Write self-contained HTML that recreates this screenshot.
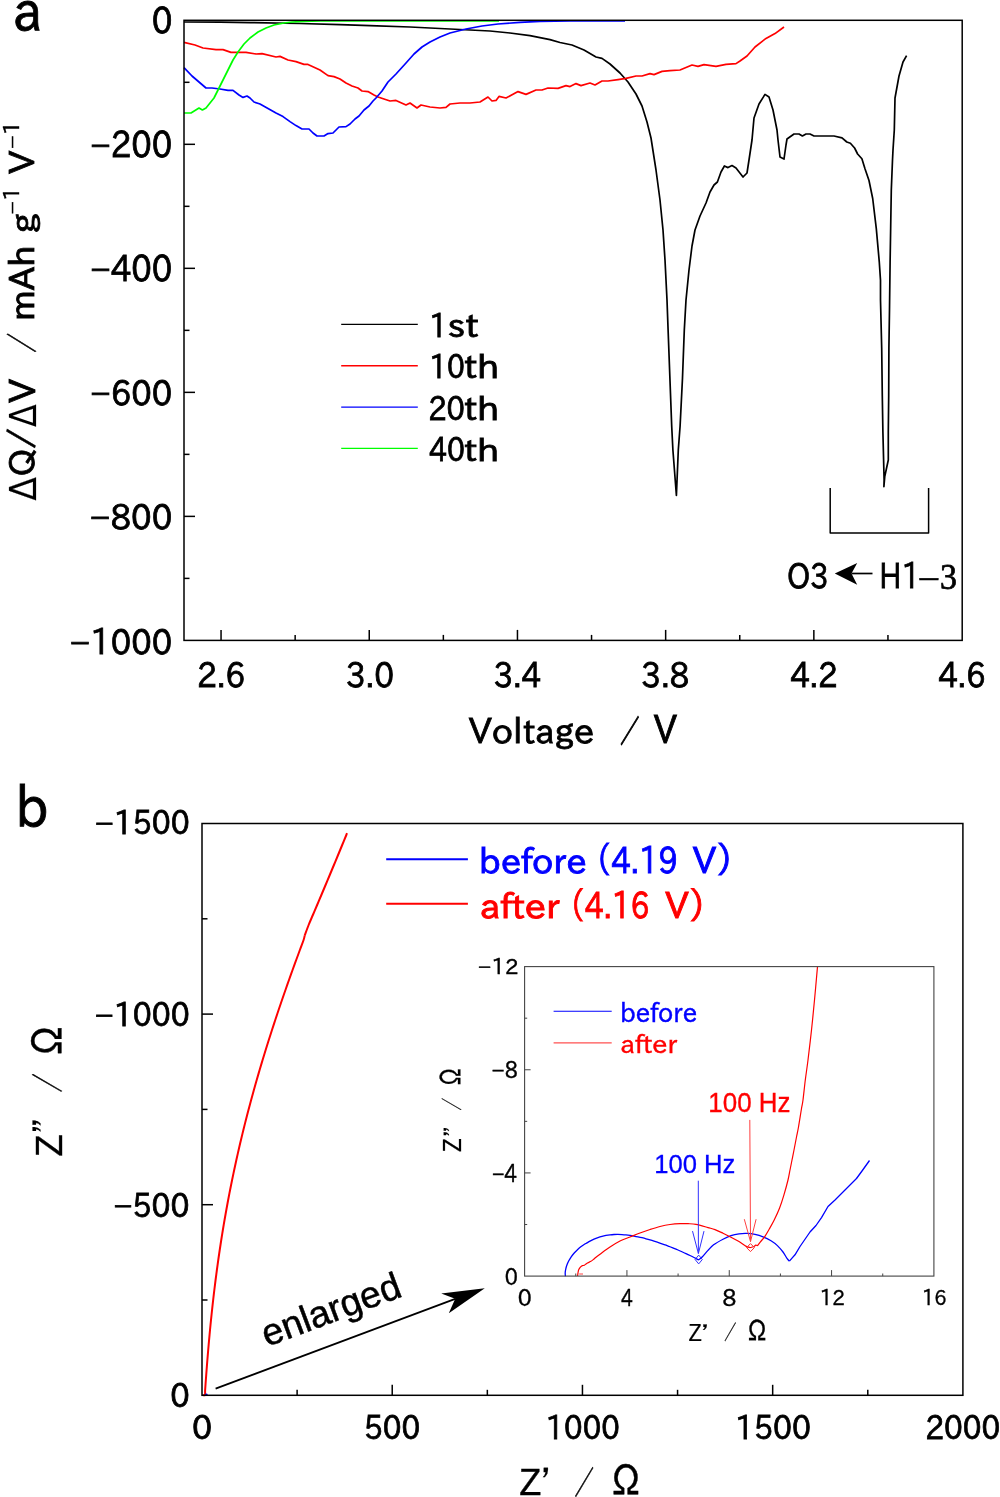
<!DOCTYPE html>
<html><head><meta charset="utf-8"><title>figure</title>
<style>html,body{margin:0;padding:0;background:#fff;}svg{display:block;}</style></head>
<body><svg width="1000" height="1497" viewBox="0 0 1000 1497">
<rect width="1000" height="1497" fill="#fff"/>
<polyline points="184.0,22.0 220.0,22.2 250.0,22.6 300.0,23.5 340.0,24.6 370.0,25.6 410.0,27.0 450.0,29.0 490.0,31.0 510.0,33.0 530.0,35.6 550.0,39.6 560.0,42.5 572.0,45.0 584.0,50.0 596.0,57.0 602.0,58.4 610.0,64.0 620.0,73.0 628.0,82.0 636.0,94.0 642.0,106.0 647.0,122.0 651.0,138.0 656.0,170.0 660.0,200.0 663.0,230.0 665.0,260.0 667.0,300.0 668.1,330.0 669.9,378.0 671.7,426.0 672.9,450.0 676.4,495.5 678.3,450.0 680.1,426.0 682.5,378.0 684.3,330.0 686.0,300.0 689.0,270.0 692.0,246.0 695.0,230.0 700.0,216.0 706.0,203.0 710.0,192.0 714.0,185.0 717.4,182.0 721.0,172.0 724.4,166.0 728.0,167.6 732.0,165.6 736.0,168.0 743.0,177.0 747.0,173.0 749.0,160.0 752.0,140.0 754.0,118.0 759.0,104.0 765.0,94.4 769.0,97.0 773.0,110.0 777.0,130.0 778.0,140.0 780.0,157.0 784.0,159.0 786.0,145.0 787.0,139.0 794.0,134.0 799.0,134.0 802.4,136.0 806.0,134.0 810.0,134.0 814.0,136.0 834.0,136.0 842.0,137.8 846.8,142.0 850.4,143.2 854.6,148.0 857.6,154.0 861.9,158.8 864.9,168.5 869.0,180.5 872.7,198.5 876.3,228.6 879.3,262.2 880.5,280.2 880.5,300.0 881.7,348.0 882.3,396.0 882.9,432.0 884.1,480.0 883.9,486.7 884.8,476.3 888.3,460.0 888.3,432.0 888.7,396.0 888.9,348.0 889.5,310.0 890.1,262.0 890.7,226.0 891.3,190.0 892.5,160.0 893.0,150.0 894.3,130.0 895.0,98.0 899.0,76.0 903.0,62.0 906.6,55.6" fill="none" stroke="#000" stroke-width="1.7" stroke-linejoin="round" stroke-linecap="butt" />
<polyline points="184.0,42.4 195.0,45.0 203.0,48.0 216.0,49.6 223.0,49.6 231.0,52.4 240.0,52.4 246.0,52.4 256.0,54.0 262.0,53.6 276.0,57.0 280.0,56.4 288.0,60.0 296.0,61.6 304.0,64.4 308.0,64.4 320.0,70.0 328.0,75.6 334.0,76.6 340.0,79.0 346.0,83.0 352.0,86.0 358.0,88.0 362.0,91.0 368.0,91.6 374.0,95.0 378.0,97.0 390.0,101.0 396.0,100.4 406.0,105.0 410.0,103.0 417.0,108.0 421.0,105.0 430.0,107.0 440.0,108.0 446.0,107.4 450.0,104.0 460.0,103.0 470.0,103.0 480.0,102.0 488.0,97.0 492.0,101.0 496.0,100.4 499.0,96.4 506.0,98.0 518.0,91.6 526.0,94.4 536.0,90.0 542.0,90.0 548.0,88.0 558.0,88.4 566.0,85.6 570.0,86.6 576.0,83.6 581.0,85.6 590.0,83.0 595.0,85.0 602.0,81.0 608.0,81.0 618.0,79.6 626.0,78.4 636.0,76.0 642.0,76.0 650.0,73.6 654.0,74.6 662.0,71.4 670.0,70.6 680.0,70.0 692.0,65.0 698.0,66.4 704.0,64.6 716.0,66.4 726.0,64.4 736.0,63.6 740.0,61.0 747.0,56.0 755.0,47.0 766.0,38.4 775.0,33.6 784.0,27.0" fill="none" stroke="#ff0000" stroke-width="1.7" stroke-linejoin="round" stroke-linecap="butt" />
<polyline points="184.0,67.6 192.0,76.0 199.0,82.0 206.0,88.0 212.0,88.0 220.0,89.0 228.0,90.4 233.0,90.4 239.0,95.0 243.0,97.4 247.0,96.0 250.0,98.0 254.0,102.0 260.0,104.0 268.0,108.4 276.0,113.0 283.0,116.6 290.0,121.6 296.0,125.6 302.0,129.0 309.0,129.0 313.0,133.0 317.0,136.0 324.0,136.0 328.0,133.6 333.0,133.0 339.0,127.0 346.0,126.6 350.0,124.0 355.0,119.0 359.0,116.0 364.0,110.0 369.0,106.0 373.0,101.0 376.0,98.0 382.0,91.0 388.0,82.0 396.0,74.0 406.0,63.0 414.0,54.0 422.0,47.0 430.0,42.0 440.0,37.0 450.0,33.0 466.0,29.0 482.0,26.0 498.0,24.0 520.0,22.4 540.0,21.4 570.0,20.8 625.0,20.8" fill="none" stroke="#0000ff" stroke-width="1.7" stroke-linejoin="round" stroke-linecap="butt" />
<polyline points="184.0,113.0 191.0,113.0 199.0,108.0 202.4,110.0 206.0,108.0 210.0,103.0 214.0,98.0 218.0,90.0 223.0,80.0 228.0,70.0 233.0,60.0 238.0,52.0 244.0,44.0 250.0,38.0 258.0,32.0 266.0,28.0 274.0,25.0 284.0,23.0 292.0,22.0 304.0,21.4 320.0,21.0 340.0,20.8 380.0,20.8 499.0,20.8" fill="none" stroke="#00ff00" stroke-width="1.7" stroke-linejoin="round" stroke-linecap="butt" />
<rect x="184" y="20.3" width="778.2" height="620.1" fill="none" stroke="#000" stroke-width="1.5"/>
<line x1="184" y1="82.31" x2="189.5" y2="82.31" stroke="#000" stroke-width="1.5"/>
<line x1="184" y1="144.32000000000002" x2="195" y2="144.32000000000002" stroke="#000" stroke-width="1.5"/>
<line x1="184" y1="206.33000000000004" x2="189.5" y2="206.33000000000004" stroke="#000" stroke-width="1.5"/>
<line x1="184" y1="268.34000000000003" x2="195" y2="268.34000000000003" stroke="#000" stroke-width="1.5"/>
<line x1="184" y1="330.35" x2="189.5" y2="330.35" stroke="#000" stroke-width="1.5"/>
<line x1="184" y1="392.36000000000007" x2="195" y2="392.36000000000007" stroke="#000" stroke-width="1.5"/>
<line x1="184" y1="454.37" x2="189.5" y2="454.37" stroke="#000" stroke-width="1.5"/>
<line x1="184" y1="516.38" x2="195" y2="516.38" stroke="#000" stroke-width="1.5"/>
<line x1="184" y1="578.39" x2="189.5" y2="578.39" stroke="#000" stroke-width="1.5"/>
<line x1="221.05000000000004" y1="640.4" x2="221.05000000000004" y2="629.9" stroke="#000" stroke-width="1.5"/>
<line x1="295.1499999999999" y1="640.4" x2="295.1499999999999" y2="634.9" stroke="#000" stroke-width="1.5"/>
<line x1="369.25" y1="640.4" x2="369.25" y2="629.9" stroke="#000" stroke-width="1.5"/>
<line x1="443.3500000000001" y1="640.4" x2="443.3500000000001" y2="634.9" stroke="#000" stroke-width="1.5"/>
<line x1="517.45" y1="640.4" x2="517.45" y2="629.9" stroke="#000" stroke-width="1.5"/>
<line x1="591.55" y1="640.4" x2="591.55" y2="634.9" stroke="#000" stroke-width="1.5"/>
<line x1="665.6499999999999" y1="640.4" x2="665.6499999999999" y2="629.9" stroke="#000" stroke-width="1.5"/>
<line x1="739.75" y1="640.4" x2="739.75" y2="634.9" stroke="#000" stroke-width="1.5"/>
<line x1="813.85" y1="640.4" x2="813.85" y2="629.9" stroke="#000" stroke-width="1.5"/>
<line x1="887.9500000000002" y1="640.4" x2="887.9500000000002" y2="634.9" stroke="#000" stroke-width="1.5"/>
<polyline points="830.2,488.0 830.2,533.0 928.6,533.0 928.6,488.0" fill="none" stroke="#000" stroke-width="1.5" stroke-linejoin="round" stroke-linecap="butt" />
<polyline points="851.5,573.5 872.5,573.5" fill="none" stroke="#000" stroke-width="1.7" stroke-linejoin="round" stroke-linecap="butt" />
<polygon points="834.8,573.5 857.2,563 851.5,573.5 857.2,584.8" fill="#000"/>
<line x1="341.2" y1="324.4" x2="417.8" y2="324.4" stroke="#000" stroke-width="1.4"/>
<line x1="341.2" y1="365.8" x2="417.8" y2="365.8" stroke="#ff0000" stroke-width="1.4"/>
<line x1="341.2" y1="407.1" x2="417.8" y2="407.1" stroke="#0000ff" stroke-width="1.4"/>
<line x1="341.2" y1="448.4" x2="417.8" y2="448.4" stroke="#00ff00" stroke-width="1.4"/>
<path d="M202.50,1395.00 C202.90,1395.00 204.46,1395.83 204.90,1395.00 C205.34,1394.17 204.98,1392.50 205.14,1390.00 C205.30,1387.50 205.60,1383.33 205.84,1380.00 C206.08,1376.67 206.34,1373.33 206.59,1370.00 C206.84,1366.67 207.10,1363.33 207.37,1360.00 C207.64,1356.67 207.91,1353.33 208.20,1350.00 C208.48,1346.67 208.78,1343.33 209.08,1340.00 C209.38,1336.67 209.69,1333.33 210.01,1330.00 C210.33,1326.67 210.66,1323.33 211.00,1320.00 C211.34,1316.67 211.69,1313.33 212.05,1310.00 C212.41,1306.67 212.78,1303.33 213.16,1300.00 C213.54,1296.67 213.93,1293.33 214.33,1290.00 C214.73,1286.67 215.14,1283.33 215.57,1280.00 C216.00,1276.67 216.43,1273.33 216.88,1270.00 C217.33,1266.67 217.79,1263.33 218.26,1260.00 C218.73,1256.67 219.22,1253.33 219.72,1250.00 C220.22,1246.67 220.73,1243.33 221.25,1240.00 C221.77,1236.67 222.31,1233.33 222.86,1230.00 C223.41,1226.67 223.97,1223.33 224.54,1220.00 C225.11,1216.67 225.71,1213.33 226.31,1210.00 C226.91,1206.67 227.52,1203.33 228.15,1200.00 C228.78,1196.67 229.42,1193.33 230.08,1190.00 C230.74,1186.67 231.41,1183.33 232.09,1180.00 C232.77,1176.67 233.47,1173.33 234.18,1170.00 C234.89,1166.67 235.61,1163.33 236.35,1160.00 C237.09,1156.67 237.84,1153.33 238.61,1150.00 C239.38,1146.67 240.16,1143.33 240.95,1140.00 C241.74,1136.67 242.55,1133.33 243.37,1130.00 C244.19,1126.67 245.02,1123.33 245.87,1120.00 C246.72,1116.67 247.58,1113.33 248.46,1110.00 C249.34,1106.67 250.23,1103.33 251.13,1100.00 C252.03,1096.67 252.95,1093.33 253.88,1090.00 C254.81,1086.67 255.75,1083.33 256.71,1080.00 C257.66,1076.67 258.63,1073.33 259.61,1070.00 C260.59,1066.67 261.58,1063.33 262.59,1060.00 C263.60,1056.67 264.62,1053.33 265.65,1050.00 C266.68,1046.67 267.72,1043.33 268.78,1040.00 C269.83,1036.67 270.90,1033.33 271.98,1030.00 C273.06,1026.67 274.15,1023.33 275.25,1020.00 C276.35,1016.67 277.47,1013.33 278.59,1010.00 C279.71,1006.67 280.85,1003.33 281.99,1000.00 C283.13,996.67 284.29,993.33 285.46,990.00 C286.62,986.67 287.80,983.33 288.98,980.00 C290.16,976.67 291.36,973.33 292.56,970.00 C293.76,966.67 294.97,963.33 296.19,960.00 C297.41,956.67 298.64,953.33 299.87,950.00 C301.10,946.67 302.78,942.43 303.59,940.00 C304.40,937.57 304.55,936.17 304.74,935.40 M304.74,935.40 C305.39,933.67 307.26,928.40 308.62,925.00 C309.98,921.60 311.46,918.33 312.88,915.00 C314.30,911.67 315.72,908.33 317.13,905.00 C318.54,901.67 319.96,898.33 321.36,895.00 C322.76,891.67 324.16,888.33 325.56,885.00 C326.96,881.67 328.36,878.33 329.75,875.00 C331.14,871.67 332.53,868.33 333.92,865.00 C335.31,861.67 336.69,858.33 338.07,855.00 C339.45,851.67 340.82,848.33 342.20,845.00 C343.57,841.67 345.52,836.97 346.32,835.00 C347.12,833.03 346.89,833.50 347.00,833.20" fill="none" stroke="#ff0000" stroke-width="2.0" stroke-linejoin="round"/>
<circle cx="206.4" cy="1394.6" r="1.2" fill="#0000ff"/>
<rect x="202" y="823.5" width="760.9" height="571.8" fill="none" stroke="#000" stroke-width="1.5"/>
<line x1="202" y1="1300.0" x2="207.5" y2="1300.0" stroke="#000" stroke-width="1.5"/>
<line x1="202" y1="1204.7" x2="213" y2="1204.7" stroke="#000" stroke-width="1.5"/>
<line x1="202" y1="1109.4" x2="207.5" y2="1109.4" stroke="#000" stroke-width="1.5"/>
<line x1="202" y1="1014.0999999999999" x2="213" y2="1014.0999999999999" stroke="#000" stroke-width="1.5"/>
<line x1="202" y1="918.8" x2="207.5" y2="918.8" stroke="#000" stroke-width="1.5"/>
<line x1="297.1125" y1="1395.3" x2="297.1125" y2="1389.8" stroke="#000" stroke-width="1.5"/>
<line x1="392.225" y1="1395.3" x2="392.225" y2="1384.8" stroke="#000" stroke-width="1.5"/>
<line x1="487.3375" y1="1395.3" x2="487.3375" y2="1389.8" stroke="#000" stroke-width="1.5"/>
<line x1="582.45" y1="1395.3" x2="582.45" y2="1384.8" stroke="#000" stroke-width="1.5"/>
<line x1="677.5625" y1="1395.3" x2="677.5625" y2="1389.8" stroke="#000" stroke-width="1.5"/>
<line x1="772.675" y1="1395.3" x2="772.675" y2="1384.8" stroke="#000" stroke-width="1.5"/>
<line x1="867.7875" y1="1395.3" x2="867.7875" y2="1389.8" stroke="#000" stroke-width="1.5"/>
<line x1="386.2" y1="859.3" x2="467.9" y2="859.3" stroke="#0000ff" stroke-width="1.9"/>
<line x1="386.2" y1="903.8" x2="467.9" y2="903.8" stroke="#ff0000" stroke-width="1.9"/>
<polyline points="215.6,1388.6 455.2,1298.8" fill="none" stroke="#000" stroke-width="1.8" stroke-linejoin="round" stroke-linecap="butt" />
<polygon points="484.8,1288.2 441.2,1293.4 455.2,1298.8 448.8,1313.2" fill="#000"/>
<rect x="524.6" y="966.6" width="409.29999999999995" height="309.4999999999999" fill="#fff" stroke="none"/>
<path d="M565.40,1276.20 C565.37,1275.63 565.13,1274.03 565.20,1272.80 C565.27,1271.57 565.50,1270.13 565.80,1268.80 C566.10,1267.47 566.50,1266.13 567.00,1264.80 C567.50,1263.47 568.10,1262.13 568.80,1260.80 C569.50,1259.47 570.33,1258.07 571.20,1256.80 C572.07,1255.53 573.00,1254.33 574.00,1253.20 C575.00,1252.07 576.07,1251.07 577.20,1250.00 C578.33,1248.93 579.53,1247.80 580.80,1246.80 C582.07,1245.80 583.93,1244.55 584.80,1244.00 C585.67,1243.45 585.13,1243.99 586.00,1243.50 C586.87,1243.01 588.67,1241.81 590.00,1241.08 C591.33,1240.35 592.67,1239.69 594.00,1239.10 C595.33,1238.51 596.67,1237.99 598.00,1237.52 C599.33,1237.05 600.67,1236.65 602.00,1236.30 C603.33,1235.95 604.67,1235.66 606.00,1235.41 C607.33,1235.16 608.67,1234.96 610.00,1234.81 C611.33,1234.66 612.67,1234.56 614.00,1234.49 C615.33,1234.42 616.67,1234.40 618.00,1234.41 C619.33,1234.42 620.67,1234.46 622.00,1234.54 C623.33,1234.62 624.67,1234.73 626.00,1234.87 C627.33,1235.01 628.67,1235.18 630.00,1235.37 C631.33,1235.56 632.67,1235.79 634.00,1236.03 C635.33,1236.27 636.67,1236.53 638.00,1236.82 C639.33,1237.11 640.67,1237.41 642.00,1237.74 C643.33,1238.07 644.67,1238.41 646.00,1238.77 C647.33,1239.13 648.67,1239.50 650.00,1239.89 C651.33,1240.28 652.67,1240.69 654.00,1241.11 C655.33,1241.53 656.67,1241.97 658.00,1242.41 C659.33,1242.86 660.67,1243.31 662.00,1243.78 C663.33,1244.25 664.67,1244.73 666.00,1245.23 C667.33,1245.73 668.67,1246.24 670.00,1246.76 C671.33,1247.28 672.67,1247.81 674.00,1248.35 C675.33,1248.89 676.67,1249.45 678.00,1250.02 C679.33,1250.59 680.67,1251.17 682.00,1251.77 C683.33,1252.37 684.67,1252.97 686.00,1253.60 C687.33,1254.22 688.67,1254.86 690.00,1255.52 C691.33,1256.18 692.67,1256.85 694.00,1257.54 C695.33,1258.23 697.13,1259.36 698.00,1259.67 C698.87,1259.98 699.00,1259.45 699.20,1259.40 M699.20,1259.40 C699.73,1258.97 700.93,1258.30 702.40,1256.80 C703.87,1255.30 706.13,1252.40 708.00,1250.40 C709.87,1248.40 711.10,1246.67 713.60,1244.80 C716.10,1242.93 720.10,1240.73 723.00,1239.20 C725.90,1237.67 728.33,1236.50 731.00,1235.60 C733.67,1234.70 736.33,1234.17 739.00,1233.80 C741.67,1233.43 744.33,1233.30 747.00,1233.40 C749.67,1233.50 752.33,1233.83 755.00,1234.40 C757.67,1234.97 760.33,1235.73 763.00,1236.80 C765.67,1237.87 768.60,1239.33 771.00,1240.80 C773.40,1242.27 775.40,1243.73 777.40,1245.60 C779.40,1247.47 781.40,1249.87 783.00,1252.00 C784.60,1254.13 785.93,1256.87 787.00,1258.40 C788.07,1259.93 789.00,1260.73 789.40,1261.20" fill="none" stroke="#0000ff" stroke-width="1.3" stroke-linejoin="round"/><polyline points="789.4,1261.2 791.8,1258.4 795.0,1254.8 800.0,1246.5 810.0,1232.0 816.0,1225.5 821.5,1217.6 828.0,1206.5 835.0,1200.0 845.0,1190.0 856.5,1178.5 862.0,1171.0 869.5,1160.5" fill="none" stroke="#0000ff" stroke-width="1.3" stroke-linejoin="round" stroke-linecap="butt" />
<path d="M577.60,1276.00 C577.67,1275.47 577.80,1273.87 578.00,1272.80 C578.20,1271.73 578.40,1270.53 578.80,1269.60 C579.20,1268.67 579.80,1267.87 580.40,1267.20 C581.00,1266.53 581.80,1265.90 582.40,1265.60 C583.00,1265.30 583.40,1265.67 584.00,1265.40 C584.60,1265.13 585.33,1264.43 586.00,1264.00 C586.67,1263.57 587.27,1263.20 588.00,1262.80 C588.73,1262.40 589.53,1262.13 590.40,1261.60 C591.27,1261.07 592.27,1260.33 593.20,1259.60 C594.13,1258.87 594.87,1258.10 596.00,1257.20 C597.13,1256.30 597.67,1255.90 600.00,1254.20 C602.33,1252.50 606.67,1249.20 610.00,1247.00 C613.33,1244.80 616.67,1242.67 620.00,1241.00 C623.33,1239.33 626.67,1238.33 630.00,1237.00 C633.33,1235.67 636.67,1234.25 640.00,1233.00 C643.33,1231.75 646.67,1230.58 650.00,1229.50 C653.33,1228.42 656.67,1227.33 660.00,1226.50 C663.33,1225.67 666.67,1224.98 670.00,1224.50 C673.33,1224.02 677.00,1223.73 680.00,1223.60 C683.00,1223.47 685.33,1223.57 688.00,1223.70 C690.67,1223.83 692.67,1223.75 696.00,1224.40 C699.33,1225.05 704.83,1226.73 708.00,1227.60 C711.17,1228.47 712.50,1228.67 715.00,1229.60 C717.50,1230.53 720.33,1231.93 723.00,1233.20 C725.67,1234.47 728.33,1235.80 731.00,1237.20 C733.67,1238.60 736.47,1240.07 739.00,1241.60 C741.53,1243.13 744.33,1245.40 746.20,1246.40 C748.07,1247.40 749.53,1247.40 750.20,1247.60 M750.20,1247.60 C750.73,1247.47 752.47,1247.20 753.40,1246.80 C754.33,1246.40 755.13,1245.37 755.80,1245.20 C756.47,1245.03 757.13,1245.70 757.40,1245.80 M757.40,1245.80 C757.93,1245.10 759.40,1243.10 760.60,1241.60 C761.80,1240.10 763.13,1238.93 764.60,1236.80 C766.07,1234.67 767.80,1231.60 769.40,1228.80 C771.00,1226.00 772.50,1223.47 774.20,1220.00 C775.90,1216.53 778.00,1212.10 779.60,1208.00 C781.20,1203.90 782.40,1200.07 783.80,1195.40 C785.20,1190.73 786.97,1184.23 788.00,1180.00 C789.03,1175.77 789.33,1173.33 790.00,1170.00 C790.67,1166.67 791.33,1163.33 792.00,1160.00 C792.67,1156.67 793.25,1153.83 794.00,1150.00 C794.75,1146.17 795.75,1140.83 796.50,1137.00 C797.25,1133.17 797.67,1131.75 798.50,1127.00 C799.33,1122.25 800.75,1113.00 801.50,1108.50 C802.25,1104.00 802.37,1104.75 803.00,1100.00 C803.63,1095.25 804.47,1086.67 805.30,1080.00 C806.13,1073.33 806.97,1068.33 808.00,1060.00 C809.03,1051.67 810.42,1040.00 811.50,1030.00 C812.58,1020.00 813.50,1010.57 814.50,1000.00 C815.50,989.43 817.00,972.17 817.50,966.60" fill="none" stroke="#ff0000" stroke-width="1.2" stroke-linejoin="round"/>
<polyline points="698.3,1180.7 698.4,1253.5" fill="none" stroke="#3030ff" stroke-width="1.0" stroke-linejoin="round" stroke-linecap="butt" />
<polyline points="692.5,1231.1 698.4,1253.5 704.0,1231.1" fill="none" stroke="#3030ff" stroke-width="1.0" stroke-linejoin="round" stroke-linecap="butt" />
<polyline points="749.8,1119.9 750.5,1241.6" fill="none" stroke="#ff4040" stroke-width="1.0" stroke-linejoin="round" stroke-linecap="butt" />
<polyline points="744.3,1219.2 750.5,1241.6 756.1,1219.2" fill="none" stroke="#ff4040" stroke-width="1.0" stroke-linejoin="round" stroke-linecap="butt" />
<polygon points="698.7,1255.1 702.3,1259.5 698.7,1263.9 695.1,1259.5" fill="none" stroke="#3030ff" stroke-width="1"/>
<polygon points="750.5,1243.6 754.4,1247.6 750.5,1251.6 746.6,1247.6" fill="none" stroke="#ff3030" stroke-width="1"/>
<polyline points="579.2,1274.0 583.0,1274.0" fill="none" stroke="#ff6060" stroke-width="1.2" stroke-linejoin="round" stroke-linecap="butt" />
<rect x="524.6" y="966.6" width="409.29999999999995" height="309.4999999999999" fill="none" stroke="#444" stroke-width="1.1"/>
<line x1="524.6" y1="1224.5166666666667" x2="527.2" y2="1224.5166666666667" stroke="#444" stroke-width="1.0"/>
<line x1="524.6" y1="1172.9333333333334" x2="530.6" y2="1172.9333333333334" stroke="#444" stroke-width="1.0"/>
<line x1="524.6" y1="1121.35" x2="527.2" y2="1121.35" stroke="#444" stroke-width="1.0"/>
<line x1="524.6" y1="1069.7666666666667" x2="530.6" y2="1069.7666666666667" stroke="#444" stroke-width="1.0"/>
<line x1="524.6" y1="1018.1833333333334" x2="527.2" y2="1018.1833333333334" stroke="#444" stroke-width="1.0"/>
<line x1="575.7625" y1="1276.1" x2="575.7625" y2="1273.5" stroke="#444" stroke-width="1.0"/>
<line x1="626.925" y1="1276.1" x2="626.925" y2="1270.1" stroke="#444" stroke-width="1.0"/>
<line x1="678.0875" y1="1276.1" x2="678.0875" y2="1273.5" stroke="#444" stroke-width="1.0"/>
<line x1="729.25" y1="1276.1" x2="729.25" y2="1270.1" stroke="#444" stroke-width="1.0"/>
<line x1="780.4125" y1="1276.1" x2="780.4125" y2="1273.5" stroke="#444" stroke-width="1.0"/>
<line x1="831.575" y1="1276.1" x2="831.575" y2="1270.1" stroke="#444" stroke-width="1.0"/>
<line x1="882.7375" y1="1276.1" x2="882.7375" y2="1273.5" stroke="#444" stroke-width="1.0"/>
<line x1="553.6" y1="1011.3" x2="611.7" y2="1011.3" stroke="#0000ff" stroke-width="1.1"/>
<line x1="553.6" y1="1042.9" x2="611.7" y2="1042.9" stroke="#ff5050" stroke-width="1.3"/>
<text transform="translate(151.73,32.87) scale(0.8667,0.9300) rotate(0)" style="font-family:'IPAPGothic','IPAGothic',sans-serif;font-size:38px" fill="#000" stroke="#000" stroke-width="0.9">0</text>
<text transform="translate(90.18,157.07) scale(0.8576,0.9333) rotate(0)" style="font-family:'IPAPGothic','IPAGothic',sans-serif;font-size:38px" fill="#000" stroke="#000" stroke-width="0.9">−200</text>
<text transform="translate(90.18,280.97) scale(0.8576,0.9300) rotate(0)" style="font-family:'IPAPGothic','IPAGothic',sans-serif;font-size:38px" fill="#000" stroke="#000" stroke-width="0.9">−400</text>
<text transform="translate(90.18,404.89) scale(0.8576,0.9100) rotate(0)" style="font-family:'IPAPGothic','IPAGothic',sans-serif;font-size:38px" fill="#000" stroke="#000" stroke-width="0.9">−600</text>
<text transform="translate(89.78,529.08) scale(0.8620,0.9167) rotate(0)" style="font-family:'IPAPGothic','IPAGothic',sans-serif;font-size:38px" fill="#000" stroke="#000" stroke-width="0.9">−800</text>
<text transform="translate(69.79,654.11) scale(0.8560,0.8871) rotate(0)" style="font-family:'IPAPGothic','IPAGothic',sans-serif;font-size:38px" fill="#000" stroke="#000" stroke-width="0.9">−1000</text>
<text transform="translate(197.04,686.68) scale(0.8315,0.9200) rotate(0)" style="font-family:'IPAPGothic','IPAGothic',sans-serif;font-size:38px" fill="#000" stroke="#000" stroke-width="0.9">2.6</text>
<text transform="translate(345.97,686.68) scale(0.8291,0.9200) rotate(0)" style="font-family:'IPAPGothic','IPAGothic',sans-serif;font-size:38px" fill="#000" stroke="#000" stroke-width="0.9">3.0</text>
<text transform="translate(493.78,686.68) scale(0.8161,0.9200) rotate(0)" style="font-family:'IPAPGothic','IPAGothic',sans-serif;font-size:38px" fill="#000" stroke="#000" stroke-width="0.9">3.4</text>
<text transform="translate(641.37,686.68) scale(0.8291,0.9200) rotate(0)" style="font-family:'IPAPGothic','IPAGothic',sans-serif;font-size:38px" fill="#000" stroke="#000" stroke-width="0.9">3.8</text>
<text transform="translate(790.18,686.68) scale(0.8182,0.9200) rotate(0)" style="font-family:'IPAPGothic','IPAGothic',sans-serif;font-size:38px" fill="#000" stroke="#000" stroke-width="0.9">4.2</text>
<text transform="translate(938.18,686.68) scale(0.8182,0.9200) rotate(0)" style="font-family:'IPAPGothic','IPAGothic',sans-serif;font-size:38px" fill="#000" stroke="#000" stroke-width="0.9">4.6</text>
<text transform="translate(469.10,742.57) scale(0.8864,0.8700) rotate(0)" style="font-family:'IPAPGothic','IPAGothic',sans-serif;font-size:40px" fill="#000" stroke="#000" stroke-width="0.9">Voltage</text>
<text transform="translate(619.80,742.56) scale(0.5000,0.8135) rotate(0)" style="font-family:'IPAPGothic','IPAGothic',sans-serif;font-size:40px" fill="#000" stroke="#000" stroke-width="1.3">／</text>
<text transform="translate(654.00,743.47) scale(0.8923,0.9290) rotate(0)" style="font-family:'IPAPGothic','IPAGothic',sans-serif;font-size:40px" fill="#000" stroke="#000" stroke-width="0.9">V</text>
<text transform="translate(37.64,505.03) scale(1.0222,0.8464) rotate(-90)" style="font-family:'IPAPGothic','IPAGothic',sans-serif;font-size:38px" fill="#000" stroke="#000" stroke-width="0.2">Δ</text>
<text transform="translate(34.16,476.54) scale(0.9125,0.9185) rotate(-90)" style="font-family:'IPAPGothic','IPAGothic',sans-serif;font-size:38px" fill="#000" stroke="#000" stroke-width="0.9">Q</text>
<text transform="translate(31.34,450.14) scale(0.8600,1.3214) rotate(-90)" style="font-family:'IPAPGothic','IPAGothic',sans-serif;font-size:38px" fill="#000" stroke="#000" stroke-width="0.4">/</text>
<text transform="translate(37.64,431.19) scale(1.0222,0.8179) rotate(-90)" style="font-family:'IPAPGothic','IPAGothic',sans-serif;font-size:38px" fill="#000" stroke="#000" stroke-width="0.2">Δ</text>
<text transform="translate(34.67,402.60) scale(0.9300,0.9600) rotate(-90)" style="font-family:'IPAPGothic','IPAGothic',sans-serif;font-size:38px" fill="#000" stroke="#000" stroke-width="0.9">V</text>
<text transform="translate(33.89,353.08) scale(0.8686,0.5382) rotate(-90)" style="font-family:'IPAPGothic','IPAGothic',sans-serif;font-size:38px" fill="#000" stroke="#000" stroke-width="0.9">／</text>
<text transform="translate(34.30,321.34) scale(0.8968,0.9480) rotate(-90)" style="font-family:'IPAPGothic','IPAGothic',sans-serif;font-size:38px" fill="#000" stroke="#000" stroke-width="0.9">mAh</text>
<text transform="translate(34.08,233.44) scale(0.8276,0.9722) rotate(-90)" style="font-family:'IPAPGothic','IPAGothic',sans-serif;font-size:38px" fill="#000" stroke="#000" stroke-width="0.9">g</text>
<text transform="translate(18.70,214.40) scale(0.8421,0.8958) rotate(-90)" style="font-family:'IPAPGothic','IPAGothic',sans-serif;font-size:24px" fill="#000" stroke="#000" stroke-width="0.45">−1</text>
<text transform="translate(34.49,173.40) scale(0.9133,0.9360) rotate(-90)" style="font-family:'IPAPGothic','IPAGothic',sans-serif;font-size:38px" fill="#000" stroke="#000" stroke-width="0.9">V</text>
<text transform="translate(18.70,148.92) scale(0.8421,0.9167) rotate(-90)" style="font-family:'IPAPGothic','IPAGothic',sans-serif;font-size:24px" fill="#000" stroke="#000" stroke-width="0.45">−1</text>
<text transform="translate(429.25,337.40) scale(0.8182,0.9000) rotate(0)" style="font-family:'IPAPGothic','IPAGothic',sans-serif;font-size:35px" fill="#000" stroke="#000" stroke-width="0.9">1</text>
<text transform="translate(447.72,337.36) scale(1.0815,0.9375) rotate(0)" style="font-family:'IPAPGothic','IPAGothic',sans-serif;font-size:35px" fill="#000" stroke="#000" stroke-width="0.9">st</text>
<text transform="translate(429.27,377.90) scale(0.8100,0.9000) rotate(0)" style="font-family:'IPAPGothic','IPAGothic',sans-serif;font-size:35px" fill="#000" stroke="#000" stroke-width="0.9">10</text>
<text transform="translate(463.93,377.90) scale(1.0667,0.9000) rotate(0)" style="font-family:'IPAPGothic','IPAGothic',sans-serif;font-size:35px" fill="#000" stroke="#000" stroke-width="0.9">th</text>
<text transform="translate(428.23,420.07) scale(0.8341,0.9333) rotate(0)" style="font-family:'IPAPGothic','IPAGothic',sans-serif;font-size:35px" fill="#000" stroke="#000" stroke-width="0.9">20</text>
<text transform="translate(463.93,420.10) scale(1.0667,0.9000) rotate(0)" style="font-family:'IPAPGothic','IPAGothic',sans-serif;font-size:35px" fill="#000" stroke="#000" stroke-width="0.9">th</text>
<text transform="translate(429.09,460.60) scale(0.8143,0.9000) rotate(0)" style="font-family:'IPAPGothic','IPAGothic',sans-serif;font-size:35px" fill="#000" stroke="#000" stroke-width="0.9">40</text>
<text transform="translate(463.93,460.63) scale(1.0667,0.8679) rotate(0)" style="font-family:'IPAPGothic','IPAGothic',sans-serif;font-size:35px" fill="#000" stroke="#000" stroke-width="0.9">th</text>
<text transform="translate(786.96,588.08) scale(0.7700,0.9167) rotate(0)" style="font-family:'IPAPGothic','IPAGothic',sans-serif;font-size:38px" fill="#000" stroke="#000" stroke-width="0.9">O3</text>
<text transform="translate(879.16,588.12) scale(0.7805,0.8774) rotate(0)" style="font-family:'IPAPGothic','IPAGothic',sans-serif;font-size:38px" fill="#000" stroke="#000" stroke-width="0.9">H1</text>
<text transform="translate(919.50,586.40) scale(0.8864,0.7333) rotate(0)" style="font-family:'Liberation Sans',Arial,sans-serif;font-size:38px" fill="#000" stroke="#000" stroke-width="0.6">–</text>
<text transform="translate(940.11,588.54) scale(0.8941,0.9630) rotate(0)" style="font-family:'Liberation Serif',serif;font-size:38px" fill="#000" stroke="#000" stroke-width="0.8">3</text>
<text transform="translate(15.33,826.65) scale(0.8933,0.9500) rotate(0)" style="font-family:'IPAPGothic','IPAGothic',sans-serif;font-size:60px" fill="#000" stroke="#000" stroke-width="0.9">b</text>
<text transform="translate(94.86,834.41) scale(0.8378,0.8862) rotate(0)" style="font-family:'IPAPGothic','IPAGothic',sans-serif;font-size:36px" fill="#000" stroke="#000" stroke-width="0.9">−1500</text>
<text transform="translate(94.86,1025.52) scale(0.8378,0.8828) rotate(0)" style="font-family:'IPAPGothic','IPAGothic',sans-serif;font-size:36px" fill="#000" stroke="#000" stroke-width="0.9">−1000</text>
<text transform="translate(113.56,1217.09) scale(0.8386,0.9143) rotate(0)" style="font-family:'IPAPGothic','IPAGothic',sans-serif;font-size:36px" fill="#000" stroke="#000" stroke-width="0.9">−500</text>
<text transform="translate(170.14,1406.89) scale(0.8600,0.9143) rotate(0)" style="font-family:'IPAPGothic','IPAGothic',sans-serif;font-size:36px" fill="#000" stroke="#000" stroke-width="0.9">0</text>
<text transform="translate(191.91,1439.29) scale(0.8900,0.9143) rotate(0)" style="font-family:'IPAPGothic','IPAGothic',sans-serif;font-size:36px" fill="#000" stroke="#000" stroke-width="0.9">0</text>
<text transform="translate(363.94,1439.29) scale(0.8277,0.9143) rotate(0)" style="font-family:'IPAPGothic','IPAGothic',sans-serif;font-size:36px" fill="#000" stroke="#000" stroke-width="0.9">500</text>
<text transform="translate(545.54,1439.32) scale(0.8186,0.8828) rotate(0)" style="font-family:'IPAPGothic','IPAGothic',sans-serif;font-size:36px" fill="#000" stroke="#000" stroke-width="0.9">1000</text>
<text transform="translate(735.09,1439.32) scale(0.8372,0.8828) rotate(0)" style="font-family:'IPAPGothic','IPAGothic',sans-serif;font-size:36px" fill="#000" stroke="#000" stroke-width="0.9">1500</text>
<text transform="translate(925.34,1439.29) scale(0.8276,0.9143) rotate(0)" style="font-family:'IPAPGothic','IPAGothic',sans-serif;font-size:36px" fill="#000" stroke="#000" stroke-width="0.9">2000</text>
<text transform="translate(519.19,1494.90) scale(0.9091,0.9500) rotate(0)" style="font-family:'IPAPGothic','IPAGothic',sans-serif;font-size:38px" fill="#000" stroke="#000" stroke-width="0.4">Z</text>
<text transform="translate(541.17,1496.81) scale(0.8667,0.8909) rotate(0)" style="font-family:'IPAPGothic','IPAGothic',sans-serif;font-size:38px" fill="#000" stroke="#000" stroke-width="0.3">’</text>
<text transform="translate(574.03,1494.82) scale(0.5353,0.8943) rotate(0)" style="font-family:'IPAPGothic','IPAGothic',sans-serif;font-size:38px" fill="#000" stroke="#000" stroke-width="0.5">／</text>
<text transform="translate(607.95,1497.10) scale(0.9423,1.1000) rotate(0)" style="font-family:'IPAPGothic','IPAGothic',sans-serif;font-size:38px" fill="#000" stroke="#000" stroke-width="0.4">Ω</text>
<text transform="translate(61.70,1156.82) scale(0.9750,0.9227) rotate(-90)" style="font-family:'IPAPGothic','IPAGothic',sans-serif;font-size:38px" fill="#000" stroke="#000" stroke-width="0.4">Z</text>
<text transform="translate(57.17,1133.49) scale(0.7273,0.8429) rotate(-90)" style="font-family:'IPAPGothic','IPAGothic',sans-serif;font-size:38px" fill="#000" stroke="#000" stroke-width="0.2">”</text>
<text transform="translate(60.02,1092.84) scale(0.8941,0.5206) rotate(-90)" style="font-family:'IPAPGothic','IPAGothic',sans-serif;font-size:38px" fill="#000" stroke="#000" stroke-width="0.5">／</text>
<text transform="translate(63.95,1059.09) scale(1.1250,0.9654) rotate(-90)" style="font-family:'IPAPGothic','IPAGothic',sans-serif;font-size:38px" fill="#000" stroke="#000" stroke-width="0.4">Ω</text>
<text transform="translate(478.74,873.36) scale(0.9857,0.9414) rotate(0)" style="font-family:'IPAPGothic','IPAGothic',sans-serif;font-size:36px" fill="#0000ff" stroke="#0000ff" stroke-width="0.9">before</text>
<text transform="translate(594.18,873.02) scale(0.8602,0.9941) rotate(0)" style="font-family:'IPAPGothic','IPAGothic',sans-serif;font-size:36px" fill="#0000ff" stroke="#0000ff" stroke-width="0.9">（4.19</text>
<text transform="translate(693.00,873.02) scale(1.0028,0.9941) rotate(0)" style="font-family:'IPAPGothic','IPAGothic',sans-serif;font-size:36px" fill="#0000ff" stroke="#0000ff" stroke-width="0.9">V）</text>
<text transform="translate(479.76,917.73) scale(1.0382,0.9724) rotate(0)" style="font-family:'IPAPGothic','IPAGothic',sans-serif;font-size:36px" fill="#ff0000" stroke="#ff0000" stroke-width="0.9">after</text>
<text transform="translate(568.36,917.68) scale(0.8337,1.0059) rotate(0)" style="font-family:'IPAPGothic','IPAGothic',sans-serif;font-size:36px" fill="#ff0000" stroke="#ff0000" stroke-width="0.9">（4.16</text>
<text transform="translate(665.50,917.68) scale(1.0028,1.0059) rotate(0)" style="font-family:'IPAPGothic','IPAGothic',sans-serif;font-size:36px" fill="#ff0000" stroke="#ff0000" stroke-width="0.9">V）</text>
<text transform="translate(478.11,974.30) scale(0.8884,0.9000) rotate(0)" style="font-family:'IPAPGothic','IPAGothic',sans-serif;font-size:24px" fill="#000" stroke="#000" stroke-width="0.45">−12</text>
<text transform="translate(491.63,1077.90) scale(0.8679,0.9667) rotate(0)" style="font-family:'IPAPGothic','IPAGothic',sans-serif;font-size:24px" fill="#000" stroke="#000" stroke-width="0.45">−8</text>
<text transform="translate(491.66,1181.50) scale(0.8379,0.9944) rotate(0)" style="font-family:'IPAPGothic','IPAGothic',sans-serif;font-size:24px" fill="#000" stroke="#000" stroke-width="0.45">−4</text>
<text transform="translate(504.63,1284.80) scale(0.8692,0.9444) rotate(0)" style="font-family:'IPAPGothic','IPAGothic',sans-serif;font-size:24px" fill="#000" stroke="#000" stroke-width="0.45">0</text>
<text transform="translate(517.78,1305.50) scale(0.9231,0.9389) rotate(0)" style="font-family:'IPAPGothic','IPAGothic',sans-serif;font-size:24px" fill="#000" stroke="#000" stroke-width="0.45">0</text>
<text transform="translate(620.90,1305.50) scale(0.7800,0.9389) rotate(0)" style="font-family:'IPAPGothic','IPAGothic',sans-serif;font-size:24px" fill="#000" stroke="#000" stroke-width="0.45">4</text>
<text transform="translate(722.16,1305.50) scale(0.9385,0.9389) rotate(0)" style="font-family:'IPAPGothic','IPAGothic',sans-serif;font-size:24px" fill="#000" stroke="#000" stroke-width="0.45">8</text>
<text transform="translate(819.74,1305.20) scale(0.8296,0.8895) rotate(0)" style="font-family:'IPAPGothic','IPAGothic',sans-serif;font-size:24px" fill="#000" stroke="#000" stroke-width="0.45">12</text>
<text transform="translate(921.98,1305.20) scale(0.8111,0.8895) rotate(0)" style="font-family:'IPAPGothic','IPAGothic',sans-serif;font-size:24px" fill="#000" stroke="#000" stroke-width="0.45">16</text>
<text transform="translate(688.60,1340.70) scale(0.8667,0.9778) rotate(0)" style="font-family:'IPAPGothic','IPAGothic',sans-serif;font-size:24px" fill="#000" stroke="#000" stroke-width="0.25">Z</text>
<text transform="translate(701.33,1342.00) scale(1.1333,0.9000) rotate(0)" style="font-family:'IPAPGothic','IPAGothic',sans-serif;font-size:24px" fill="#000" stroke="#000" stroke-width="0.2">’</text>
<text transform="translate(724.08,1340.00) scale(0.5182,0.9000) rotate(0)" style="font-family:'IPAPGothic','IPAGothic',sans-serif;font-size:24px" fill="#000" stroke="#000" stroke-width="0.3">／</text>
<text transform="translate(745.35,1342.29) scale(0.9875,1.1882) rotate(0)" style="font-family:'IPAPGothic','IPAGothic',sans-serif;font-size:24px" fill="#000" stroke="#000" stroke-width="0.25">Ω</text>
<text transform="translate(460.90,1151.90) scale(1.0111,0.8933) rotate(-90)" style="font-family:'IPAPGothic','IPAGothic',sans-serif;font-size:24px" fill="#000" stroke="#000" stroke-width="0.25">Z</text>
<text transform="translate(459.50,1136.80) scale(0.8143,0.9000) rotate(-90)" style="font-family:'IPAPGothic','IPAGothic',sans-serif;font-size:24px" fill="#000" stroke="#000" stroke-width="0.15">”</text>
<text transform="translate(460.13,1110.65) scale(0.9364,0.5455) rotate(-90)" style="font-family:'IPAPGothic','IPAGothic',sans-serif;font-size:24px" fill="#000" stroke="#000" stroke-width="0.3">／</text>
<text transform="translate(462.13,1087.83) scale(1.2294,0.9111) rotate(-90)" style="font-family:'IPAPGothic','IPAGothic',sans-serif;font-size:24px" fill="#000" stroke="#000" stroke-width="0.25">Ω</text>
<text transform="translate(619.95,1022.00) scale(0.9763,0.9900) rotate(0)" style="font-family:'IPAPGothic','IPAGothic',sans-serif;font-size:26px" fill="#0000ff" stroke="#0000ff" stroke-width="0.45">before</text>
<text transform="translate(620.27,1053.20) scale(1.0255,0.9650) rotate(0)" style="font-family:'IPAPGothic','IPAGothic',sans-serif;font-size:26px" fill="#ff0000" stroke="#ff0000" stroke-width="0.45">after</text>
<text transform="translate(708.30,1111.90) scale(0.9975,1.0333) rotate(0)" style="font-family:'Liberation Sans',Arial,sans-serif;font-size:26px" fill="#ff0000" stroke="#ff0000" stroke-width="0.3">100 Hz</text>
<text transform="translate(654.23,1173.10) scale(0.9850,1.0056) rotate(0)" style="font-family:'Liberation Sans',Arial,sans-serif;font-size:26px" fill="#0000ff" stroke="#0000ff" stroke-width="0.3">100 Hz</text>
<text transform="translate(266.92,1347.06) scale(0.9876,0.9876) rotate(-20.5)" style="font-family:'Liberation Sans',Arial,sans-serif;font-size:38px" fill="#000" stroke="#000" stroke-width="0.5">enlarged</text>
<text transform="translate(12.80,30.55) scale(0.8933,0.9500) rotate(0)" style="font-family:'IPAPGothic','IPAGothic',sans-serif;font-size:60px" fill="#000" stroke="#000" stroke-width="0.9">a</text>
</svg></body></html>
